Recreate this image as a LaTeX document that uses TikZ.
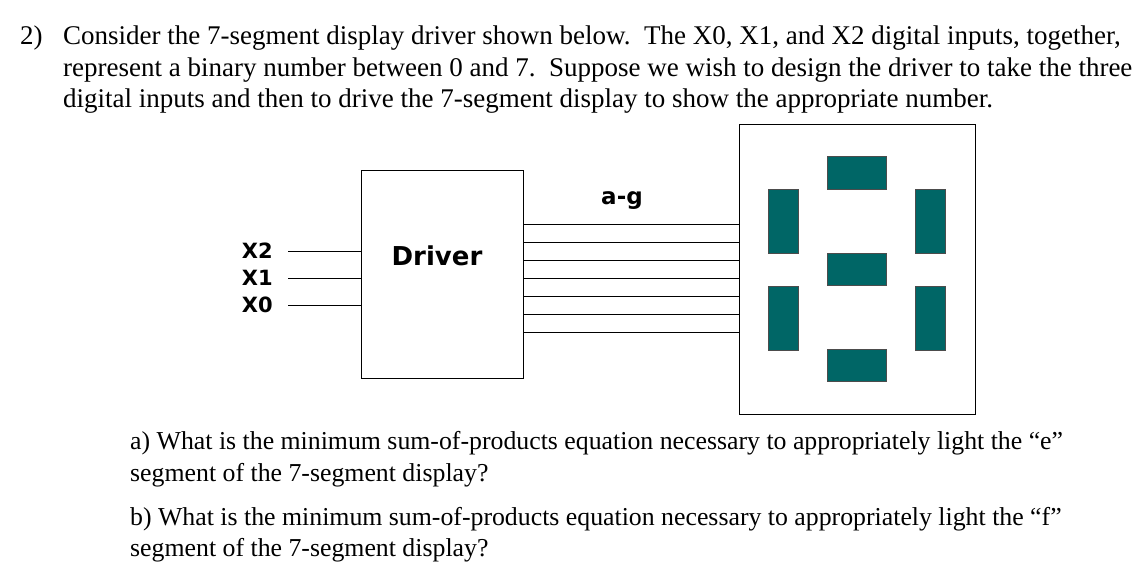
\documentclass[tikz,border=0pt]{standalone}
\usepackage{fontspec}
\setmainfont{Liberation Serif}
\newfontfamily\diagfont{DejaVu Sans}
\definecolor{segteal}{HTML}{006666}
\tikzset{
  txt/.style={anchor=base west, inner sep=0pt, font=\fontsize{25.8}{30}\selectfont},
  toptxt/.style={txt, font=\fontsize{27}{31}\selectfont},
  lbl/.style={inner sep=0pt, font=\diagfont\bfseries\fontsize{21}{24}\selectfont},
  seg/.style={draw=black!70, fill=segteal, line width=0.8pt},
  wire/.style={line width=0.8pt}
}
\begin{document}
\begin{tikzpicture}[x=1pt,y=-1pt]
\useasboundingbox (0,0) rectangle (1144,587);
% question text
\node[toptxt] (n2) at (20,44) {2)};
\node[toptxt] (l1) at (63,44) {Consider the 7-segment display driver shown below.\ \ The X0, X1, and X2 digital inputs, together,};
\node[toptxt] (l2) at (63,76) {represent a binary number between 0 and 7.\ \ Suppose we wish to design the driver to take the three};
\node[toptxt] (l3) at (63,107) {digital inputs and then to drive the 7-segment display to show the appropriate number.};
\node[txt] (qa1) at (130,449) {a) What is the minimum sum-of-products equation necessary to appropriately light the ``e''};
\node[txt] (qa2) at (130,481) {segment of the 7-segment display?};
\node[txt] (qb1) at (130,525) {b) What is the minimum sum-of-products equation necessary to appropriately light the ``f''};
\node[txt] (qb2) at (130,556) {segment of the 7-segment display?};
% driver and display
\draw[wire] (361,170) rectangle (523,378);
\coordinate (drvNW) at (361,170);
\node[lbl, font=\diagfont\bfseries\fontsize{26}{28}\selectfont] (drv) at (437,256) {Driver};
\draw[wire] (739,124) rectangle (975,414);
\coordinate (dispW) at (739,124);
% inputs
\foreach \name/\y in {2/251,1/278,0/305}{
  \node[lbl, anchor=east] (x\name) at (273,\y) {X\name};
  \draw[wire] (288,\y) -- (drvNW |- 0,\y);
}
% outputs a-g
\node[lbl, font=\diagfont\bfseries\fontsize{23}{25}\selectfont] (ag) at (622,201) {a-g};
\foreach \y in {224,242,260,278,296,314,332}
  \draw[wire] (523,\y) -- (dispW |- 0,\y);
% segments
\draw[seg] (827,156) rectangle (886,189);
\draw[seg] (827,253) rectangle (886,285);
\draw[seg] (827,349) rectangle (886,381);
\draw[seg] (768,189) rectangle (798,253);
\draw[seg] (768,286) rectangle (798,350);
\draw[seg] (915,189) rectangle (945,253);
\draw[seg] (915,286) rectangle (945,350);
\end{tikzpicture}
\end{document}
